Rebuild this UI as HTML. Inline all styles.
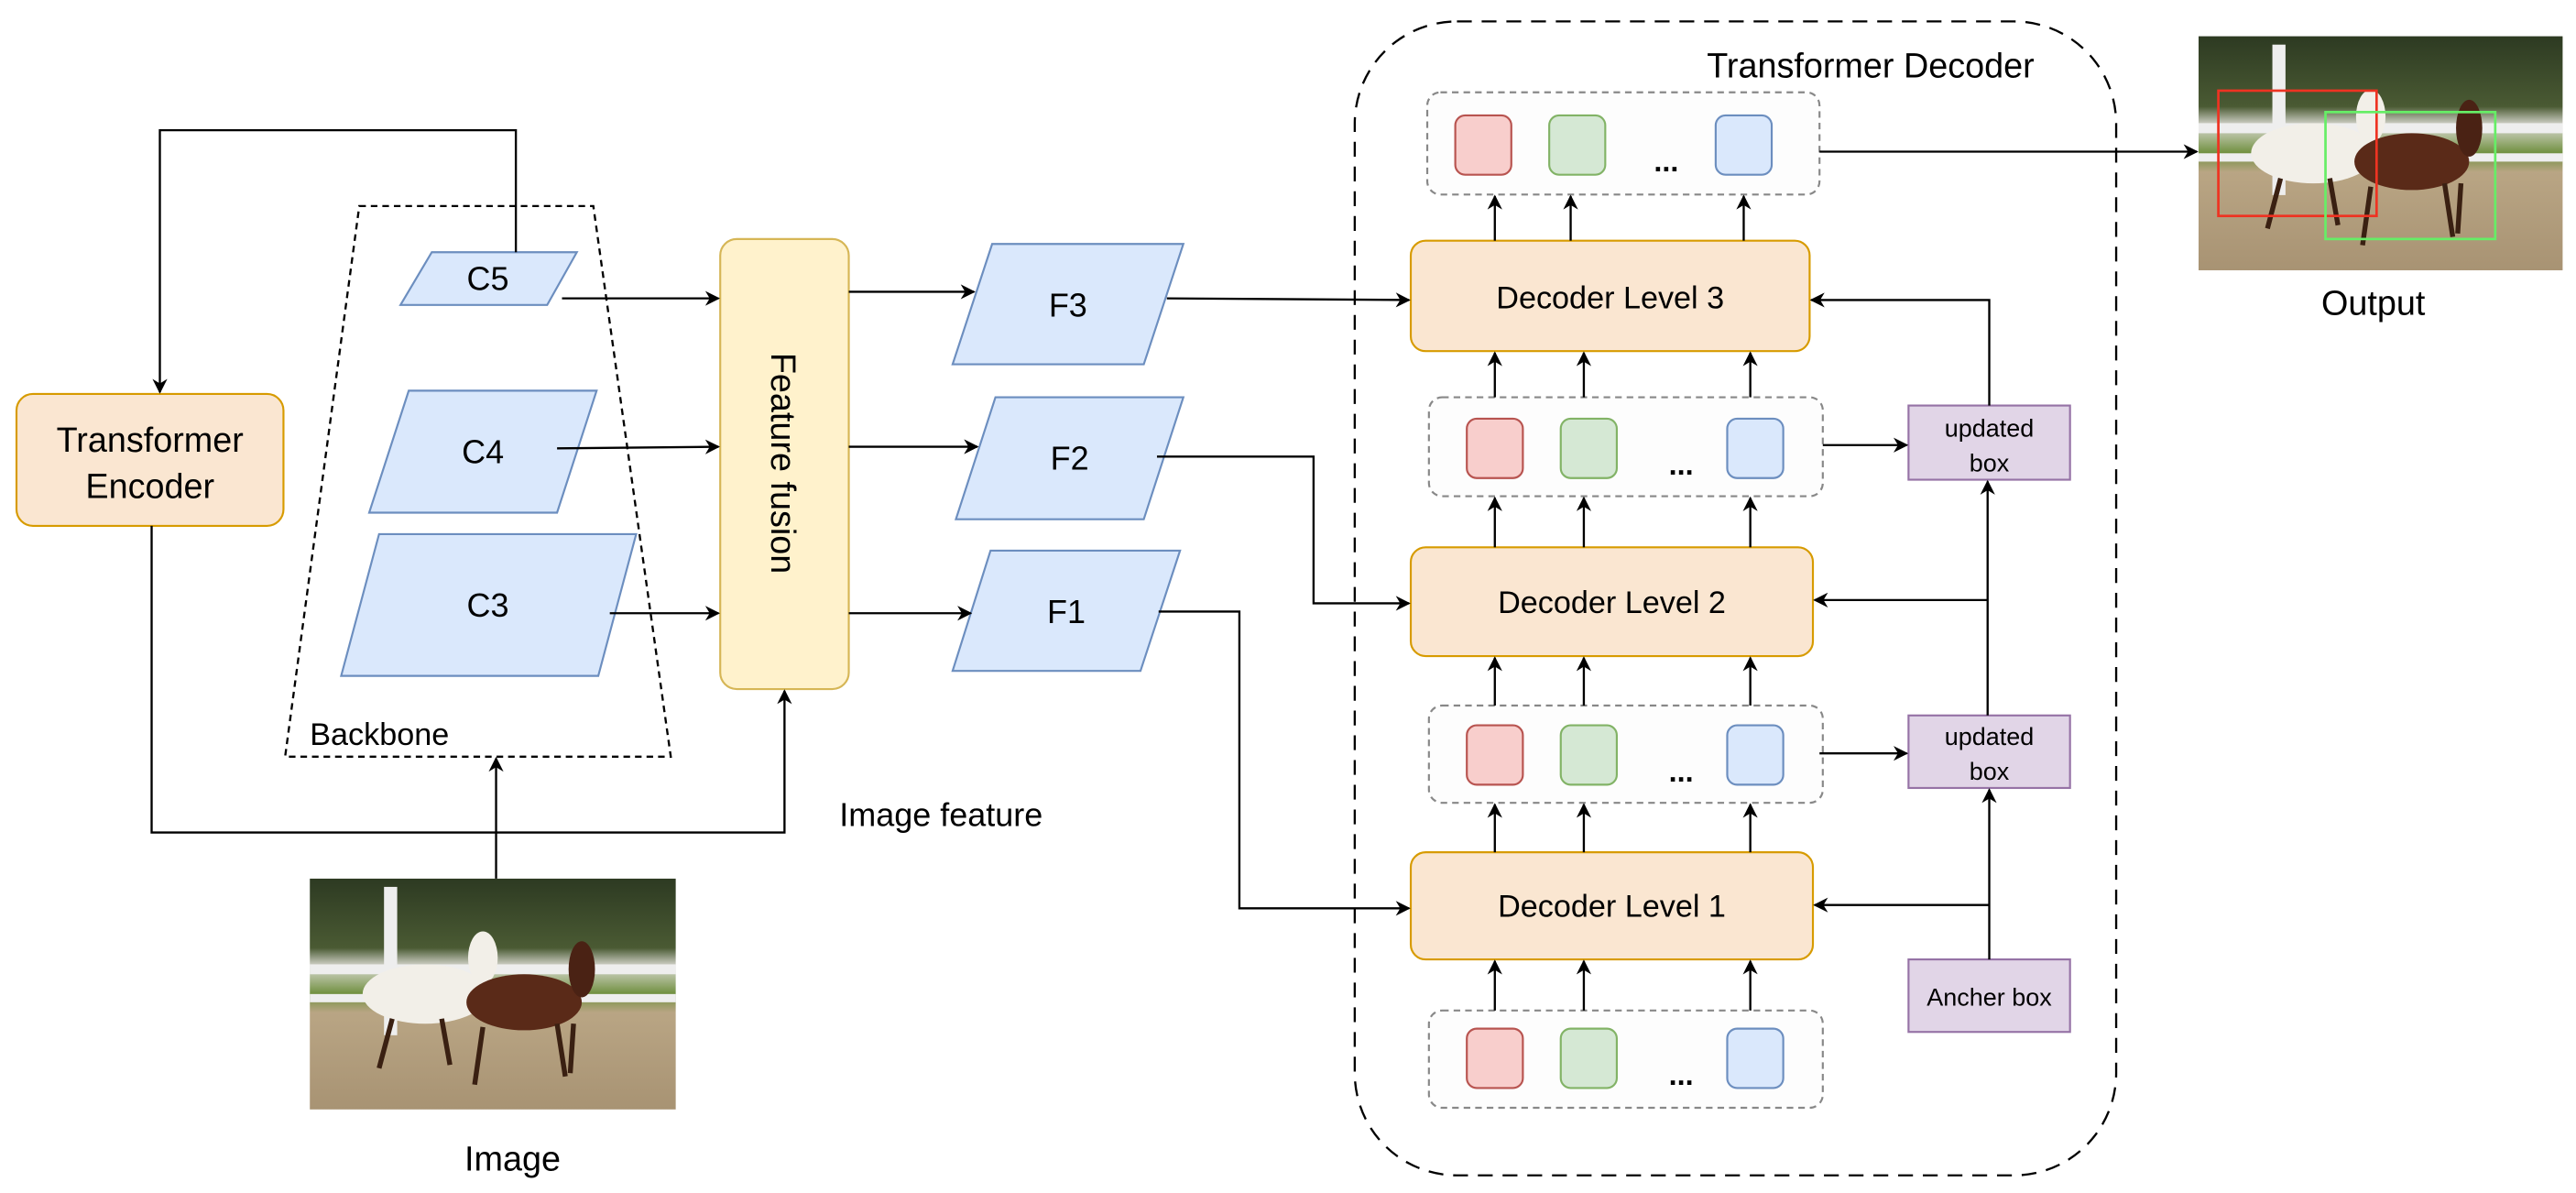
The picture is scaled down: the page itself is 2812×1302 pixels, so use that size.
<!DOCTYPE html>
<html><head><meta charset="utf-8"><style>html,body{margin:0;padding:0;background:#fff}svg{display:block}</style></head><body>
<svg width="2812" height="1302" viewBox="0 0 1563 723.7" preserveAspectRatio="none" xmlns="http://www.w3.org/2000/svg" font-family="Liberation Sans, sans-serif">
<defs>
<marker id="a" viewBox="0 0 10 10" refX="9" refY="5" markerWidth="9" markerHeight="9" orient="auto-start-reverse" markerUnits="userSpaceOnUse"><path d="M0,0 L10,5 L0,10 L3,5 z" fill="#000"/></marker>
<linearGradient id="img" x1="0" y1="0" x2="0" y2="1">
<stop offset="0" stop-color="#2d3a22"/><stop offset="0.3" stop-color="#4a5a33"/><stop offset="0.38" stop-color="#d8d8d0"/><stop offset="0.5" stop-color="#6f8f3e"/><stop offset="0.58" stop-color="#b9a584"/><stop offset="1" stop-color="#a89373"/></linearGradient>
<g id="horse">
<rect width="222" height="140" fill="url(#img)"/>
<rect x="0" y="52" width="222" height="6" fill="#eee"/><rect x="0" y="70" width="222" height="5" fill="#eee"/>
<rect x="45" y="5" width="8" height="90" fill="#eee"/>
<ellipse cx="70" cy="70" rx="38" ry="18" fill="#f2efe8"/><ellipse cx="105" cy="48" rx="9" ry="16" fill="#f2efe8"/>
<ellipse cx="130" cy="75" rx="35" ry="17" fill="#5a2a18"/><ellipse cx="165" cy="55" rx="8" ry="17" fill="#4a2214"/>
<path d="M105 90 l-5 35 M150 88 l5 32 M160 88 l-2 30 M50 85 l-8 30 M80 85 l5 28" stroke="#3a2012" stroke-width="3"/>
</g>
</defs>
<g fill="none" stroke="#000" stroke-width="1.3">
<!-- transformer decoder dashed container -->
<rect x="822" y="13" width="462" height="700" rx="62" stroke-dasharray="9,6"/>
<!-- backbone trapezoid -->
<path d="M218,125 L360,125 L407,459 L173,459 Z" stroke-dasharray="4,3"/>
</g>
<!-- encoder -->
<rect x="10" y="239" width="162" height="80" rx="10" fill="#fae6d1" stroke="#d79b00" stroke-width="1.2"/>
<text x="91" y="274" font-size="21" text-anchor="middle">Transformer</text>
<text x="91" y="302" font-size="21" text-anchor="middle">Encoder</text>
<text x="188" y="452" font-size="19">Backbone</text>
<!-- C parallelograms -->
<g fill="#dae8fc" stroke="#6c8ebf" stroke-width="1.2">
<polygon points="262,153 350,153 332,185 243,185"/>
<polygon points="248,237 362,237 338,311 224,311"/>
<polygon points="230,324 386,324 363,410 207,410"/>
<polygon points="602,148 718,148 694,221 578,221"/>
<polygon points="604,241 718,241 694,315 580,315"/>
<polygon points="601,334 716,334 692,407 578,407"/>
</g>
<g font-size="20" text-anchor="middle">
<text x="296" y="176">C5</text><text x="293" y="281">C4</text><text x="296" y="374">C3</text>
<text x="648" y="192">F3</text><text x="649" y="285">F2</text><text x="647" y="378">F1</text>
</g>
<!-- feature fusion -->
<rect x="437" y="145" width="78" height="273" rx="10" fill="#fff2cc" stroke="#d6b656" stroke-width="1.2"/>
<text transform="translate(468,281) rotate(90)" font-size="21" text-anchor="middle">Feature fusion</text>
<text x="571" y="501" font-size="20" text-anchor="middle">Image feature</text>
<!-- images -->
<g transform="translate(188,533)"><use href="#horse"/></g>
<text x="311" y="710" font-size="21" text-anchor="middle">Image</text>
<g transform="translate(1334,22) scale(0.995,1.014)"><use href="#horse"/></g>
<rect x="1346" y="55" width="96" height="76" fill="none" stroke="#e32" stroke-width="1.5"/>
<rect x="1411" y="68" width="103" height="77" fill="none" stroke="#6e6" stroke-width="1.5"/>
<text x="1440" y="191" font-size="21" text-anchor="middle">Output</text>
<text x="1135" y="47" font-size="21" text-anchor="middle">Transformer Decoder</text>
<!-- query groups -->
<g fill="#fdfdfd" stroke="#888" stroke-width="1.2" stroke-dasharray="4,3">
<rect x="866" y="56" width="238" height="62" rx="8"/>
<rect x="867" y="241" width="239" height="60" rx="8"/>
<rect x="867" y="428" width="239" height="59" rx="8"/>
<rect x="867" y="613" width="239" height="59" rx="8"/>
</g>
<g stroke-width="1.2">
<g transform="translate(883,70)"><rect width="34" height="36" rx="6" fill="#f8cecc" stroke="#b85450"/><rect x="57" width="34" height="36" rx="6" fill="#d5e8d4" stroke="#82b366"/><rect x="158" width="34" height="36" rx="6" fill="#dae8fc" stroke="#6c8ebf"/><text x="128" y="34" font-size="18" font-weight="bold" text-anchor="middle">...</text></g>
<g transform="translate(890,254)"><rect width="34" height="36" rx="6" fill="#f8cecc" stroke="#b85450"/><rect x="57" width="34" height="36" rx="6" fill="#d5e8d4" stroke="#82b366"/><rect x="158" width="34" height="36" rx="6" fill="#dae8fc" stroke="#6c8ebf"/><text x="130" y="34" font-size="18" font-weight="bold" text-anchor="middle">...</text></g>
<g transform="translate(890,440)"><rect width="34" height="36" rx="6" fill="#f8cecc" stroke="#b85450"/><rect x="57" width="34" height="36" rx="6" fill="#d5e8d4" stroke="#82b366"/><rect x="158" width="34" height="36" rx="6" fill="#dae8fc" stroke="#6c8ebf"/><text x="130" y="34" font-size="18" font-weight="bold" text-anchor="middle">...</text></g>
<g transform="translate(890,624)"><rect width="34" height="36" rx="6" fill="#f8cecc" stroke="#b85450"/><rect x="57" width="34" height="36" rx="6" fill="#d5e8d4" stroke="#82b366"/><rect x="158" width="34" height="36" rx="6" fill="#dae8fc" stroke="#6c8ebf"/><text x="130" y="34" font-size="18" font-weight="bold" text-anchor="middle">...</text></g>
</g>
<!-- decoder levels -->
<g fill="#fae6d1" stroke="#d79b00" stroke-width="1.2">
<rect x="856" y="146" width="242" height="67" rx="9"/>
<rect x="856" y="332" width="244" height="66" rx="9"/>
<rect x="856" y="517" width="244" height="65" rx="9"/>
</g>
<g font-size="19" text-anchor="middle">
<text x="977" y="187">Decoder Level 3</text><text x="978" y="372">Decoder Level 2</text><text x="978" y="556">Decoder Level 1</text>
</g>
<!-- purple boxes -->
<g fill="#e1d5e7" stroke="#9673a6" stroke-width="1.2">
<rect x="1158" y="246" width="98" height="45"/><rect x="1158" y="434" width="98" height="44"/><rect x="1158" y="582" width="98" height="44"/>
</g>
<g font-size="15" text-anchor="middle">
<text x="1207" y="265">updated</text><text x="1207" y="286">box</text>
<text x="1207" y="452">updated</text><text x="1207" y="473">box</text>
<text x="1207" y="610">Ancher box</text>
</g>
<!-- connectors -->
<g fill="none" stroke="#000" stroke-width="1.3" marker-end="url(#a)">
<path d="M313,153 V79 H97 V238"/>
<path d="M92,319 V505 H476 V419"/>
<path d="M301,533 V460"/>
<path d="M341,181 H436"/><path d="M338,272 L436,271"/><path d="M370,372 H436"/>
<path d="M515,177 H591"/><path d="M515,271 H593"/><path d="M515,372 H589"/>
<path d="M708,181 L855,182"/>
<path d="M702,277 H797 V366 H855"/>
<path d="M703,371 H752 V551 H855"/>
<path d="M1104,92 H1333"/>
<path d="M1106,270 H1157"/><path d="M1104,457 H1157"/>
<path d="M1207,582 V479"/>
<path d="M1207,549 H1101"/>
<path d="M1206,434 V292"/>
<path d="M1206,364 H1101"/>
<path d="M1207,246 V182 H1099"/>
<path d="M907,146 V119"/><path d="M953,146 V119"/><path d="M1058,146 V119"/>
<path d="M907,241 V214"/><path d="M961,241 V214"/><path d="M1062,241 V214"/>
<path d="M907,332 V302"/><path d="M961,332 V302"/><path d="M1062,332 V302"/>
<path d="M907,428 V399"/><path d="M961,428 V399"/><path d="M1062,428 V399"/>
<path d="M907,517 V488"/><path d="M961,517 V488"/><path d="M1062,517 V488"/>
<path d="M907,613 V583"/><path d="M961,613 V583"/><path d="M1062,613 V583"/>
</g>
</svg>
</body></html>
